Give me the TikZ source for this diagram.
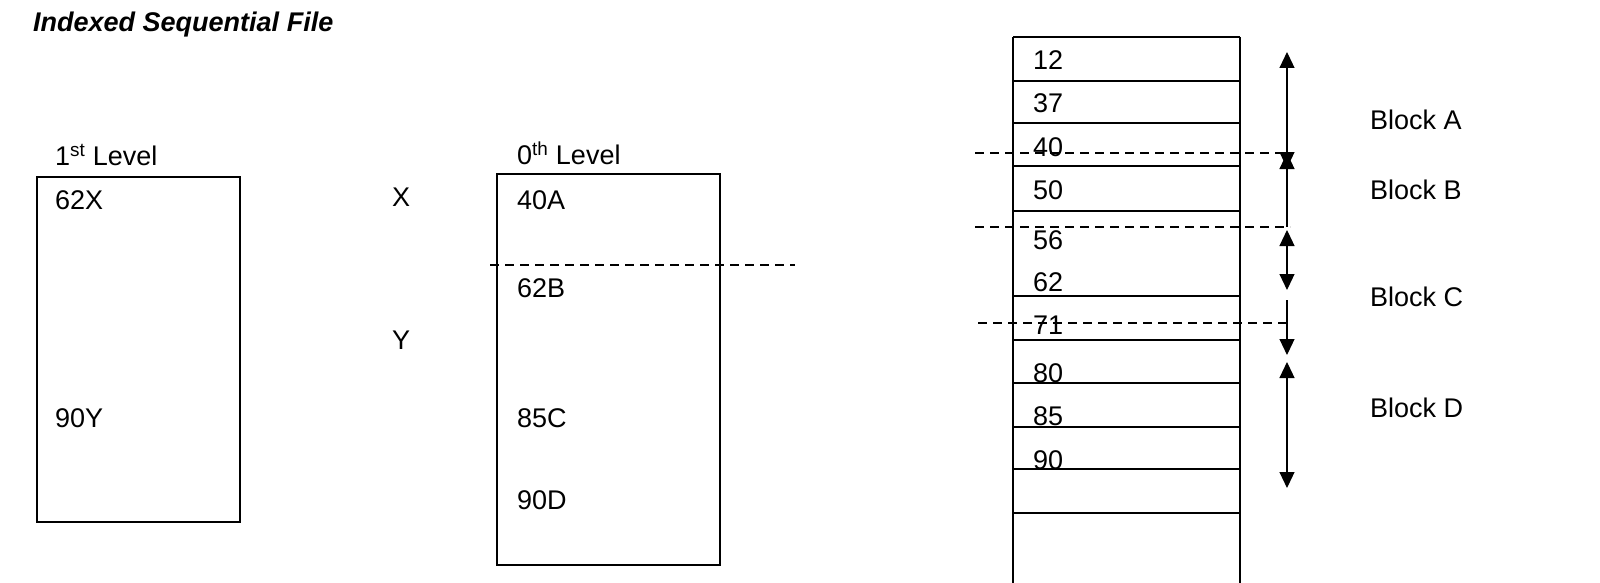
\documentclass[tikz,border=0pt]{standalone}
\usepackage{fontspec}
\setmainfont{Liberation Sans}
\usetikzlibrary{arrows.meta}
\begin{document}
\begin{tikzpicture}[x=1pt,y=-1pt,
  lbl/.style={anchor=west,inner sep=0pt,font=\fontsize{27}{30}\selectfont},
  box/.style={draw,line width=1.2pt},
  dsh/.style={line width=1.2pt,dash pattern=on 9pt off 6pt},
  arr/.style={line width=1.2pt,-{Triangle[length=16pt,width=15pt]}}]
\useasboundingbox (0,0) rectangle (1600,583);
\node[lbl,font=\fontsize{27}{30}\selectfont\bfseries\itshape] (title) at (33,25) {Indexed Sequential File};
\node[lbl] (l1) at (55,155) {1\textsuperscript{st} Level};
\draw[box] (37,177) rectangle (240,522);
\node[lbl] (a) at (55,200) {62X};
\node[lbl] (b) at (55,418) {90Y};
\node[lbl] (X) at (392,197) {X};
\node[lbl] (Y) at (392,340) {Y};
\node[lbl] (l0) at (517,153) {0\textsuperscript{th} Level};
\draw[box] (497,174) rectangle (720,565);
\node[lbl] at (517,200) {40A};
\node[lbl] at (517,288) {62B};
\node[lbl] at (517,418) {85C};
\node[lbl] at (517,500) {90D};
\draw[dsh] (490,265) -- (795,265);
% column
\draw[box] (1013,37) -- (1013,583) (1240,37) -- (1240,583);
\foreach \y in {37,81,123,166,211,296,340,383,427,469,513}
  \draw[box] (1013,\y) -- (1240,\y);
\foreach \t/\y in {12/60,37/103,40/147,50/190,56/240,62/282,71/325,80/373,85/416,90/460}
  \node[lbl] at (1033,\y) {\t};
\draw[dsh] (975,153) -- (1290,153);
\draw[dsh] (975,227) -- (1290,227);
\draw[dsh] (978,323) -- (1290,323);
\draw[arr] (1287,110) -- (1287,52); \draw[arr] (1287,110) -- (1287,168);
\draw[arr] (1287,200) -- (1287,153);
\draw[line width=1.2pt] (1287,200) -- (1287,227);
\draw[arr] (1287,260) -- (1287,230);
\draw[arr] (1287,260) -- (1287,290);
\draw[arr] (1287,300) -- (1287,355);
\draw[arr] (1287,420) -- (1287,362);
\draw[arr] (1287,420) -- (1287,488);
\node[lbl] at (1370,120) {Block A};
\node[lbl] at (1370,190) {Block B};
\node[lbl] at (1370,297) {Block C};
\node[lbl] at (1370,408) {Block D};
\end{tikzpicture}
\end{document}
